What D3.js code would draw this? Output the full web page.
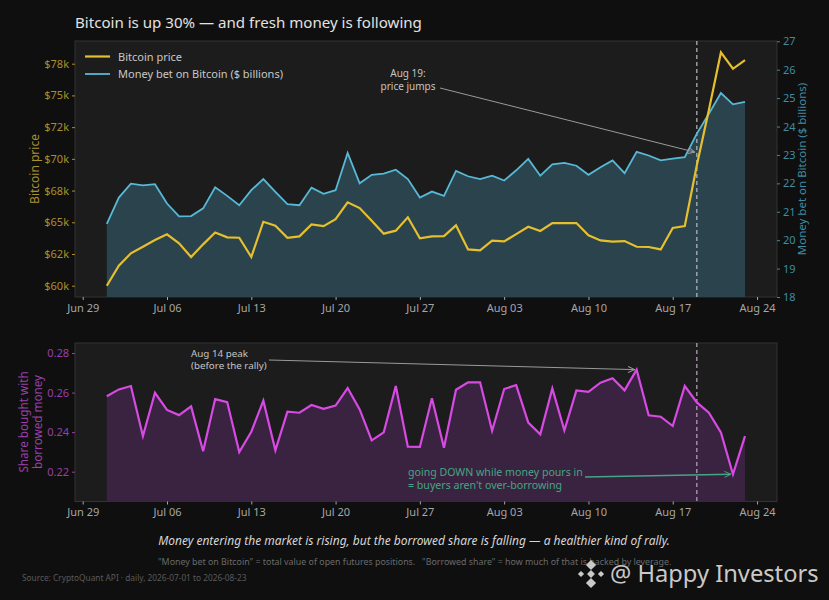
<!DOCTYPE html>
<meta charset="utf-8">
<style>
html, body { margin: 0; padding: 0; background: #0f0f0f; }
svg { display: block; }
text { font-family: "Noto Sans", sans-serif; }
</style>
<svg width="829" height="600"></svg>
<script src="https://d3js.org/d3.v7.min.js"></script>
<script>

var priceK = [60.0, 61.58, 62.55, 63.07, 63.6, 64.05, 63.34, 62.26, 63.26, 64.2, 63.81, 63.78, 62.26, 65.04,
  64.73, 63.78, 63.89, 64.83, 64.7, 65.25, 66.57, 66.12, 65.12, 64.1, 64.34, 65.39, 63.73, 63.89, 63.91, 64.76,
  62.86, 62.78, 63.55, 63.49, 64.07, 64.65, 64.31, 64.94, 64.94, 64.94, 63.97, 63.57, 63.47, 63.52, 63.07, 63.05,
  62.86, 64.55, 64.7, 69.5, 73.85, 78.39, 77.1, 77.79];

var moneyBet = [20.57, 21.5, 21.99, 21.93, 21.97, 21.29, 20.84, 20.85, 21.12, 21.86, 21.56, 21.23, 21.76, 22.15,
  21.7, 21.27, 21.23, 21.85, 21.63, 21.76, 23.07, 22.0, 22.3, 22.34, 22.48, 22.15, 21.5, 21.71, 21.56, 22.44,
  22.25, 22.15, 22.27, 22.1, 22.46, 22.86, 22.27, 22.67, 22.72, 22.62, 22.3, 22.57, 22.81, 22.36, 23.11, 22.98,
  22.81, 22.87, 22.92, 23.75, 24.45, 25.18, 24.78, 24.87];

var borrowed = [.2581, .2616, .2633, .2380, .2599, .2512, .2486, .2530, .2303, .2567, .2552, .2299, .2402, .2559,
  .2308, .2503, .2498, .2537, .2518, .2534, .2623, .2515, .2358, .2399, .2633, .2326, .2325, .2571, .2321, .2614,
  .2652, .2652, .2407, .2618, .2638, .2448, .2389, .2621, .2409, .2611, .2604, .2650, .2672, .2611, .2716, .2485,
  .2478, .2431, .2633, .2550, .2498, .2399, .2187, .2380];

var days = d3.utcDay.range(new Date(Date.UTC(2026, 6, 1)), new Date(Date.UTC(2026, 7, 24)));
var weekTicks = d3.utcDay.range(new Date(Date.UTC(2026, 5, 29)), new Date(Date.UTC(2026, 7, 25)), 7);
var priceTicks = [60, 62.5, 65, 67.5, 70, 72.5, 75, 77.5];
var priceTickLabels = ["$60k", "$62k", "$65k", "$68k", "$70k", "$72k", "$75k", "$78k"];
var moneyTicks = [18, 19, 20, 21, 22, 23, 24, 25, 26, 27];
var borrowedTicks = [0.22, 0.24, 0.26, 0.28];
var rallyDay = new Date(Date.UTC(2026, 7, 19));
var peakDay = new Date(Date.UTC(2026, 7, 14));
var lowDay = new Date(Date.UTC(2026, 7, 22));

var colour = {
  page: "#0f0f0f", panel: "#1c1c1c", edge: "#333333",
  gold: "#e6bf2e", goldDim: "#a8902c",
  blue: "#58b9d6", blueDim: "#3f8ba3",
  purple: "#d84ae4", purpleDim: "#9a3fa6",
  green: "#46a583", tick: "#a6a6a6", note: "#c4c4c4"
};

var svg = d3.select("svg");
var fmtDay = d3.utcFormat("%b %d");

var x = d3.scaleUtc().domain([days[0], days[days.length - 1]]).range([106.8, 745]);
var panelLeft = 75, panelRight = 777;

var upper = { y0: 41, y1: 297 }, lower = { y0: 343, y1: 501.5 };

var yPrice = d3.scaleLinear().domain([60, 77.5]).range([285.7, 63.7]);
var yMoney = d3.scaleLinear().domain([18, 27]).range([297, 41.3]);
var yBorrow = d3.scaleLinear().domain([0.22, 0.28]).range([471.7, 353]);

svg.append("rect").attr("width", 829).attr("height", 600).attr("fill", colour.page);

[upper, lower].forEach(function(p) {
  svg.append("rect")
     .attr("x", panelLeft).attr("y", p.y0)
     .attr("width", panelRight - panelLeft).attr("height", p.y1 - p.y0)
     .attr("fill", colour.panel).attr("stroke", colour.edge).attr("stroke-width", 1);
});

// arrow heads
function marker(id, col) {
  svg.append("defs").append("marker")
     .attr("id", id).attr("viewBox", "0 0 8 8").attr("refX", 7.5).attr("refY", 4)
     .attr("markerWidth", 8).attr("markerHeight", 8).attr("orient", "auto")
     .attr("markerUnits", "userSpaceOnUse")
     .append("path").attr("d", "M1,1 L7.5,4 L1,7").attr("fill", "none")
     .attr("stroke", col).attr("stroke-width", 1);
}
marker("headGrey", "#9a9a9a");
marker("headGreen", colour.green);

// upper panel: money area + lines
var moneyArea = d3.area().x(function(d, i) { return x(days[i]); }).y0(upper.y1).y1(function(d) { return yMoney(d); });
var moneyLine = d3.line().x(function(d, i) { return x(days[i]); }).y(function(d) { return yMoney(d); });
var priceLine = d3.line().x(function(d, i) { return x(days[i]); }).y(function(d) { return yPrice(d); });

svg.append("path").datum(moneyBet).attr("d", moneyArea).attr("fill", "#2a434d");

svg.append("line")
   .attr("x1", x(rallyDay)).attr("x2", x(rallyDay)).attr("y1", upper.y0).attr("y2", upper.y1)
   .attr("stroke", "#b4bcc0").attr("stroke-width", 1.2).attr("stroke-dasharray", "4,3");

svg.append("path").datum(moneyBet).attr("d", moneyLine)
   .attr("fill", "none").attr("stroke", colour.blue).attr("stroke-width", 1.8);
svg.append("path").datum(priceK).attr("d", priceLine)
   .attr("fill", "none").attr("stroke", colour.gold).attr("stroke-width", 2.2);

// lower panel
var borrowArea = d3.area().x(function(d, i) { return x(days[i]); }).y0(lower.y1).y1(function(d) { return yBorrow(d); });
var borrowLine = d3.line().x(function(d, i) { return x(days[i]); }).y(function(d) { return yBorrow(d); });

svg.append("path").datum(borrowed).attr("d", borrowArea).attr("fill", "#3a2340");

svg.append("line")
   .attr("x1", x(rallyDay)).attr("x2", x(rallyDay)).attr("y1", lower.y0).attr("y2", lower.y1)
   .attr("stroke", "#b9a6bd").attr("stroke-width", 1.2).attr("stroke-dasharray", "4,3");

svg.append("path").datum(borrowed).attr("d", borrowLine)
   .attr("fill", "none").attr("stroke", colour.purple).attr("stroke-width", 2.2);

// axes
function styleAxis(g, col) {
  g.select(".domain").remove();
  g.selectAll("line").attr("stroke", col);
  g.selectAll("text").attr("fill", col).style("font-size", "11px").style("font-family", '"Noto Sans", sans-serif');
}

svg.append("g").attr("transform", "translate(0," + upper.y1 + ")")
   .call(d3.axisBottom(x).tickValues(weekTicks).tickFormat(fmtDay).tickSize(3).tickPadding(4))
   .call(styleAxis, colour.tick);
svg.append("g").attr("transform", "translate(0," + lower.y1 + ")")
   .call(d3.axisBottom(x).tickValues(weekTicks).tickFormat(fmtDay).tickSize(3).tickPadding(4))
   .call(styleAxis, colour.tick);

svg.append("g").attr("transform", "translate(" + panelLeft + ",0)")
   .call(d3.axisLeft(yPrice).tickValues(priceTicks).tickSize(3).tickPadding(3)
     .tickFormat(function(d, i) { return priceTickLabels[i]; }))
   .call(styleAxis, colour.goldDim);

svg.append("g").attr("transform", "translate(" + panelRight + ",0)")
   .call(d3.axisRight(yMoney).tickValues(moneyTicks).tickSize(3).tickPadding(3).tickFormat(d3.format("d")))
   .call(styleAxis, colour.blueDim);

svg.append("g").attr("transform", "translate(" + panelLeft + ",0)")
   .call(d3.axisLeft(yBorrow).tickValues(borrowedTicks).tickSize(3).tickPadding(3).tickFormat(d3.format(".2f")))
   .call(styleAxis, colour.purpleDim);

// text helper
function label(str, px, py, size, col, anchor) {
  return svg.append("text").attr("x", px).attr("y", py).attr("fill", col)
     .style("font-size", size + "px").attr("text-anchor", anchor || "start").text(str);
}
function turned(str, px, py, size, col, deg) {
  return svg.append("text").attr("transform", "translate(" + px + "," + py + ") rotate(" + deg + ")")
     .attr("fill", col).style("font-size", size + "px").attr("text-anchor", "middle").text(str);
}

label("Bitcoin is up 30% \u2014 and fresh money is following", 75, 28, 15.1, "#e2e2e2");

turned("Bitcoin price", 39, 169, 12, colour.goldDim, -90);
turned("Money bet on Bitcoin ($ billions)", 806, 169, 11.5, colour.blueDim, -90);
turned("Share bought with", 28, 422, 11.7, colour.purpleDim, -90);
turned("borrowed money", 42, 422, 11.7, colour.purpleDim, -90);

// legend
svg.append("line").attr("x1", 85).attr("x2", 110).attr("y1", 56.5).attr("y2", 56.5)
   .attr("stroke", colour.gold).attr("stroke-width", 2.2);
svg.append("line").attr("x1", 85).attr("x2", 110).attr("y1", 74).attr("y2", 74)
   .attr("stroke", colour.blue).attr("stroke-width", 1.8);
label("Bitcoin price", 118, 60.5, 11, "#c8c8c8");
label("Money bet on Bitcoin ($ billions)", 118, 78, 11, "#c8c8c8");

// annotations
label("Aug 19:", 408, 77, 10, colour.note, "middle");
label("price jumps", 408, 89.5, 10, colour.note, "middle");
svg.append("line")
   .attr("x1", 440).attr("y1", 88).attr("x2", x(rallyDay) - 2).attr("y2", yMoney(23.1))
   .attr("stroke", "#9a9a9a").attr("stroke-width", 1).attr("marker-end", "url(#headGrey)");

label("Aug 14 peak", 191, 357, 9.8, colour.note);
label("(before the rally)", 191, 368.5, 9.8, colour.note);
svg.append("line")
   .attr("x1", 269).attr("y1", 360).attr("x2", x(peakDay) - 2).attr("y2", yBorrow(0.2716))
   .attr("stroke", "#9a9a9a").attr("stroke-width", 1).attr("marker-end", "url(#headGrey)");

label("going DOWN while money pours in", 408, 476, 10.6, colour.green);
label("= buyers aren't over-borrowing", 408, 488.5, 10.6, colour.green);
svg.append("line")
   .attr("x1", 585).attr("y1", 477).attr("x2", x(lowDay) - 2).attr("y2", yBorrow(0.2187))
   .attr("stroke", colour.green).attr("stroke-width", 1.5).attr("marker-end", "url(#headGreen)");

// footer
label("Money entering the market is rising, but the borrowed share is falling \u2014 a healthier kind of rally.",
      414, 545, 12, "#d6d6d6", "middle").style("font-style", "italic");
label("\"Money bet on Bitcoin\" = total value of open futures positions.   \"Borrowed share\" = how much of that is backed by leverage.",
      158, 565, 8.85, "#6a6a6a").style("white-space", "pre");
label("Source: CryptoQuant API \u00b7 daily, 2026-07-01 to 2026-08-23", 22, 581, 8.3, "#5a5a5a");

// watermark
var mark = svg.append("g").attr("transform", "translate(591,574)").attr("fill", "#c9c9c9");
[[0, -9, 3.6], [0, 9, 3.6], [-10, 0, 2.2], [10, 0, 2.2], [0, 0, 2.8]].forEach(function(s) {
  mark.append("rect").attr("x", s[0] - s[2]).attr("y", s[1] - s[2])
      .attr("width", s[2] * 2).attr("height", s[2] * 2)
      .attr("transform", "rotate(45 " + s[0] + " " + s[1] + ")");
});
label("@ Happy Investors", 610, 582, 23.7, "#c9c9c9");

</script>
